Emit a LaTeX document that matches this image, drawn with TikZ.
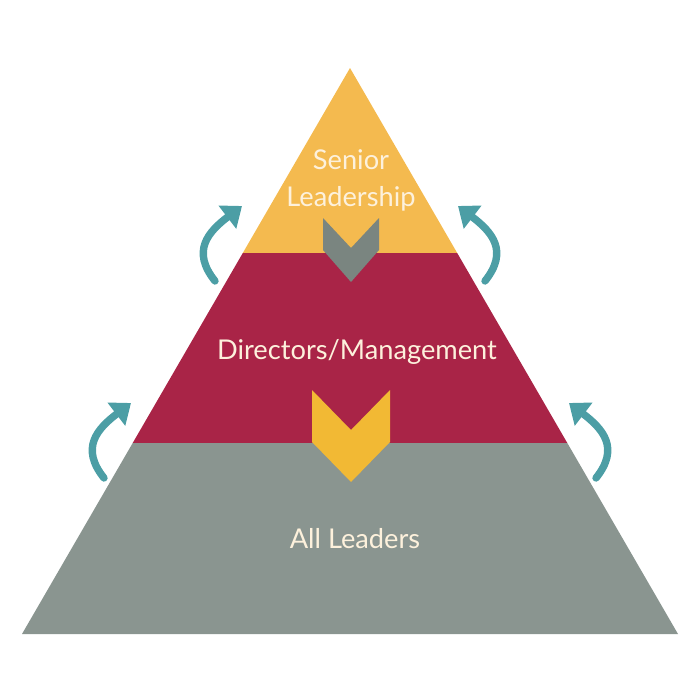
\documentclass[tikz,border=0pt]{standalone}
\usepackage{fontspec}
\setmainfont{Lato}
\usetikzlibrary{arrows.meta,positioning}

\definecolor{seniorYellow}{HTML}{F4BA4F}
\definecolor{directorRed}{HTML}{A92447}
\definecolor{leaderGray}{HTML}{8A9590}
\definecolor{chevronGray}{HTML}{7A8580}
\definecolor{chevronYellow}{HTML}{F2B934}
\definecolor{arrowTeal}{HTML}{4C9EA5}
\definecolor{textCream}{HTML}{FDF1DC}

\begin{document}
\begin{tikzpicture}[
        x=0.02cm, y=-0.02cm,
        % Block styles
        band/.style={fill=#1, draw=none},
        chevron/.style={fill=#1, draw=none},
        label/.style={
            text=textCream,
            font=\fontsize{15.5}{21}\selectfont,
            align=center
        },
        curlarrow/.style={
            draw=arrowTeal,
            line width=4.2pt,
            line cap=round,
            -{Triangle[length=10.5pt,width=16pt]}
        }
    ]
    \useasboundingbox (0,0) rectangle (700,700);

    % Pyramid bands
    \path[band=seniorYellow] (350,68) -- (457.2,253) -- (242.8,253) -- cycle;
    \path[band=directorRed] (242.8,253) -- (457.2,253) -- (567.3,443) -- (132.7,443) -- cycle;
    \path[band=leaderGray] (132.7,443) -- (567.3,443) -- (678,634) -- (22,634) -- cycle;

    % Chevrons
    \path[chevron=chevronGray] (323,218) -- (351,248) -- (379,218) -- (379,250) -- (351,282) -- (323,250) -- cycle;
    \path[chevron=chevronYellow] (312,390) -- (351,430) -- (390,390) -- (390,442) -- (351,482) -- (312,442) -- cycle;

    % Labels
    \node[label] (senior) at (351,180) {Senior\\Leadership};
    \node[label] (directors) at (357,352) {Directors/Management};
    \node[label] (leaders) at (355,539) {All Leaders};

    % Curved arrows
    \coordinate (tailTL) at (215,281);
    \coordinate (tipTL) at (242,206);
    \coordinate (tailTR) at (485,281);
    \coordinate (tipTR) at (458,206);
    \coordinate (tailBL) at (104,478);
    \coordinate (tipBL) at (131,403);
    \coordinate (tailBR) at (596,478);
    \coordinate (tipBR) at (569,403);

    \draw[curlarrow] (tailTL) .. controls +(-24,-30) and +(-34,26) .. (tipTL);
    \draw[curlarrow] (tailTR) .. controls +(24,-30) and +(34,26) .. (tipTR);
    \draw[curlarrow] (tailBL) .. controls +(-24,-30) and +(-34,26) .. (tipBL);
    \draw[curlarrow] (tailBR) .. controls +(24,-30) and +(34,26) .. (tipBR);

\end{tikzpicture}
\end{document}
